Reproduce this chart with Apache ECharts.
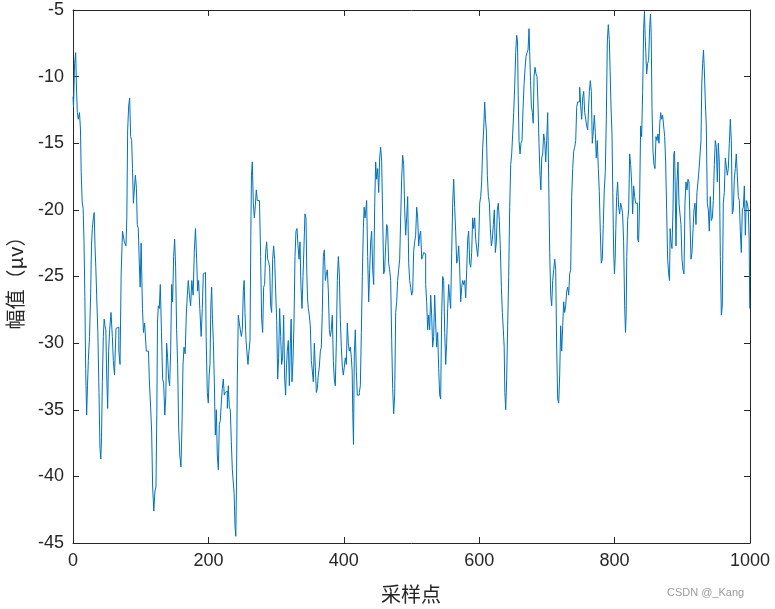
<!DOCTYPE html>
<html>
<head>
<meta charset="utf-8">
<script src="https://cdn.jsdelivr.net/npm/echarts@6/dist/echarts.min.js"></script>
<style>
html,body{margin:0;padding:0;background:#fff;}
#chart{width:775px;height:609px;}
</style>
</head>
<body>
<div id="chart"></div>
<script>
// [sample index, amplitude (μv)], in pieces along the x axis
const seg0to90 = [[0,-11.5],[1.5,-12.3],[3.2,-9.0],[4.7,-8.2],[5.7,-11],[7.1,-12.7],[8.6,-13.2],[10.6,-12.7],[11.6,-14],[12.6,-17.2],[14.5,-19.4],[15.5,-19.9],[17,-22.4],[18,-26.5],[19.4,-31.9],[20.9,-35.4],[21.9,-33.2],[23.4,-31.3],[25.4,-29.5],[26.8,-26.3],[27.8,-22.7],[29.3,-21.4],[30.8,-20.6],[31.8,-20.2],[33.2,-22.7],[34.2,-24.3],[35.7,-26.4],[37.7,-29.2],[39.1,-33.7],[40.6,-37.9],[41.6,-38.7],[42.6,-37.1],[44.1,-32.9],[45.5,-29.5],[46.5,-28.2],[48,-28.7],[49,-29],[50.5,-32.4],[51.9,-34.9],[53.4,-30.6],[54.9,-29],[57.4,-27.7],[58.8,-29.5],[60.3,-31.3],[62.3,-32.4],[64.8,-28.9],[66.7,-28.8],[68.7,-30.6],[70.2,-31.6],[72.1,-24.8],[74.1,-21.6],[77.5,-22.4],[79,-22.7],[80,-20.6],[81.5,-14],[83,-12.2],[84.4,-11.6],[85.9,-14.5],[87.4,-14.8],[88.4,-16.9],[90,-19.5]];
const seg91to201 = [[91,-19.4],[93.3,-17.4],[94.2,-18.4],[95.7,-21.1],[97.2,-21.4],[98.7,-24],[99.7,-25.8],[101.6,-22.5],[103.6,-27.4],[104.6,-29.2],[107,-28.5],[109.5,-30.6],[111.5,-30.6],[113.9,-32.7],[115.4,-34.8],[116.9,-36.6],[118.4,-40.8],[120.3,-42.6],[121.8,-41.1],[123.3,-40.8],[124.3,-35.3],[125.3,-28.5],[126.7,-27.2],[128.2,-27.4],[129.7,-25.6],[131.7,-29.2],[133.1,-32.7],[134.6,-33],[136.6,-35.4],[137.6,-33.9],[139,-30],[140.5,-31.1],[142,-32.7],[143.5,-33.2],[145,-30.6],[146.4,-25.6],[147.9,-26.9],[149.4,-23.5],[150.9,-22.2],[152.3,-24.3],[153.8,-29],[155.3,-31.6],[156.8,-36.3],[158.7,-38.4],[160.2,-39.3],[161.7,-36.3],[163.2,-31.7],[164.7,-30.3],[166.6,-30.8],[168.1,-27.9],[169.6,-26.4],[171,-25.3],[173,-26.4],[174.5,-27.2],[176.5,-25.3],[178.4,-26.4],[179.9,-23.2],[181.9,-21.4],[183.4,-23.7],[184.8,-26.1],[186.3,-25.3],[188.3,-27.4],[190.3,-29.5],[191.7,-27.4],[193.2,-24.8],[195.7,-24.7],[197.6,-29.5],[199.1,-33.7],[200.6,-34.5]];
const seg202to319 = [[201.6,-32.4],[203.1,-31.6],[204.1,-27.2],[205.5,-25.8],[206.5,-28.2],[208,-29.8],[209.5,-32.9],[211,-36.9],[212.4,-35],[213.9,-38.4],[215.4,-39.5],[216.9,-36.1],[218.3,-35.8],[219.8,-34.5],[221.3,-33.4],[222.8,-32.7],[224.2,-33.9],[225.7,-33.7],[227.2,-33.6],[228.7,-34.9],[230.2,-33.2],[231.6,-34.8],[233.1,-35],[234.6,-37.4],[236.1,-39.5],[237.5,-40.5],[238.5,-41.3],[240,-43.7],[241,-44.5],[242,-40.5],[243.4,-32.7],[244.9,-27.9],[246.4,-28.5],[247.9,-29],[249.4,-29.5],[250.8,-29],[252.3,-26.1],[253.3,-25.3],[254.8,-27.7],[256.3,-29.8],[257.7,-29.9],[259.2,-31.6],[260.7,-30.6],[262.2,-29.8],[263.1,-21.9],[264.1,-17.4],[265.6,-16.4],[267.1,-19.5],[268.6,-20.6],[270,-19.7],[271.5,-18.5],[273,-19.3],[274.5,-19.3],[276.4,-19.3],[277.9,-23.5],[279.4,-28.2],[280.9,-29.2],[282.3,-25.8],[283.8,-25.6],[285.3,-23.2],[286.8,-22.4],[288.3,-23.7],[289.7,-23.9],[291.2,-24.3],[292.7,-27.2],[294.2,-27.7],[295.6,-23.7],[297.1,-22.7],[298.6,-23.7],[300.1,-26.1],[301.6,-28.3],[303,-32.7],[304.5,-31.1],[306,-27.4],[307.5,-29.5],[308.9,-31.6],[310.4,-31.1],[311.9,-27.9],[313.4,-32.7],[314.8,-33.9],[315.8,-31.8],[317.3,-30.6],[318.8,-29.8]];
const seg320to425 = [[320.3,-33.2],[321.8,-30],[322.7,-28.2],[324.2,-32.9],[325.7,-31.3],[327.2,-28.5],[328.6,-23.5],[330.1,-21.6],[331.6,-21.4],[333.1,-22.7],[334.6,-23.7],[336,-22.4],[337.5,-25.8],[339,-27.4],[340.5,-25],[341.9,-22.7],[343.4,-20.3],[344.9,-20.6],[345.9,-24.8],[346.9,-26.6],[348.3,-27.4],[349.8,-27.9],[351.3,-28.7],[352.8,-31.3],[354.3,-32.1],[355.7,-32.9],[357.2,-30],[358.7,-31.8],[360.2,-33.7],[361.6,-33.4],[363.1,-32.4],[364.6,-31.8],[366.1,-30.6],[367.5,-30.3],[369,-27.7],[370.5,-23.5],[372,-23],[373.5,-25.3],[374.9,-24.8],[376.4,-24.5],[377.9,-26.1],[379.4,-29],[380.8,-29.5],[382.3,-29],[383.8,-27.9],[385.3,-31.3],[386.7,-32.7],[388.2,-33.2],[389.7,-30],[391.2,-25.3],[392.7,-23.5],[394.1,-24.8],[395.6,-28.2],[397.1,-30.3],[398.6,-31.8],[400,-32.4],[401.5,-31.8],[403,-31.1],[404.5,-31.6],[405.9,-28.5],[407.4,-30],[408.9,-30.6],[410.4,-30.3],[411.9,-31.1],[412.8,-32.1],[413.8,-35.3],[414.8,-37.6],[416.3,-30.8],[417.8,-29],[419.2,-32.1],[420.7,-33.9],[422.2,-33.9],[423.7,-33.7],[425.2,-33.2]];
const seg427to540 = [[426.6,-29.2],[428.1,-25],[429.6,-21.4],[430.6,-19.8],[432.1,-20.6],[433,-20],[434.5,-19.3],[436,-23.5],[437.5,-26.9],[439,-24.5],[440.4,-22.4],[441.9,-21.6],[443.4,-24.5],[444.9,-25.6],[446.3,-19.8],[447.8,-16.4],[449.3,-17.7],[450.8,-16.9],[452.3,-18.7],[453.7,-16.1],[455.2,-15.3],[456.7,-16.4],[458.2,-20.6],[459.6,-24.8],[461.1,-24.5],[462.6,-22.7],[464.1,-21.1],[465.5,-21.4],[467,-24],[468.5,-24.5],[470,-25.3],[471.5,-29.8],[472.9,-33.4],[474.4,-35.3],[475.9,-33.9],[477.4,-27.7],[478.8,-26.9],[480.3,-25.3],[481.8,-24.5],[483.3,-23.7],[484.7,-23.6],[486.2,-17.7],[487.7,-15.9],[489.2,-16.6],[490.7,-20],[492.1,-21.9],[493.6,-20.6],[495.1,-19],[496.6,-24],[498,-25.3],[499.5,-25.8],[501,-26.4],[502.5,-26.1],[503.9,-23.1],[505.4,-22.4],[506.9,-21.9],[508.4,-19.8],[509.9,-20.6],[511.3,-22.7],[512.8,-21.9],[514.3,-21.6],[515.8,-23.7],[517.2,-23.5],[518.7,-23.2],[520.2,-23.3],[521.7,-25.6],[523.1,-26.9],[524.6,-29],[526.1,-27.9],[527.6,-29],[529.1,-26.4],[530.5,-27.9],[532,-30.3],[533.5,-29.5],[535,-26.4],[536.4,-28.5],[537.9,-30.3],[539.4,-29.2]];
const seg541to646 = [[540.9,-31.9],[542.4,-33.9],[543.8,-34.2],[545.3,-27.9],[546.8,-25],[548.3,-25.3],[549.8,-29.2],[551.2,-31.6],[552.7,-30],[554.2,-27.4],[555.7,-25.6],[557.1,-26.6],[558.6,-27.4],[560.1,-23.2],[561.6,-19.5],[563,-17.7],[564.5,-19.8],[566,-21.6],[567.5,-24],[569,-23.7],[570.4,-22.7],[571.9,-24.3],[573.4,-26.9],[574.9,-25.8],[576.3,-25.3],[577.8,-25.6],[579.3,-25.3],[580.8,-26.6],[582.3,-24.5],[583.7,-22.2],[585.2,-21.6],[586.7,-24],[588.2,-24.3],[589.6,-23.2],[591.1,-20.6],[592.6,-21.4],[594.1,-20.6],[595.5,-22.2],[597,-22.2],[598.5,-23.5],[600,-22.4],[601.5,-19.5],[602.9,-19],[604.4,-17.9],[605.9,-15.3],[607.4,-14],[608.8,-11.9],[609.8,-13.2],[611.3,-14],[612.8,-17.4],[614.3,-19],[615.7,-19.5],[617.2,-21.4],[618.7,-22.7],[620.2,-22.2],[621.6,-21.1],[623.1,-20],[624.6,-23.2],[626.1,-22.4],[627.5,-20],[629,-19.5],[630.5,-20.8],[632,-22.9],[633.5,-25.8],[634.9,-27.7],[636.4,-29],[637.4,-30.3],[638.4,-33.7],[639.9,-35],[641.3,-32.7],[642.8,-28.7],[644.3,-25],[645.8,-19.8]];
const seg647to761 = [[647.3,-16.6],[648.7,-15.8],[650.2,-14.3],[651.7,-12.7],[653.2,-10.7],[654.6,-8.2],[656.1,-6.9],[657.1,-7.4],[658.1,-11.4],[659.6,-14.8],[661,-15.8],[662.5,-15],[664,-14.8],[665.5,-12.4],[667,-10.6],[668.4,-9.4],[669.9,-8.5],[671.4,-8.2],[672.9,-8],[674.3,-6.4],[675.3,-6.4],[676.3,-10.3],[677.8,-12.2],[679.3,-12.7],[680.3,-13.5],[681.7,-10],[683.2,-9.3],[684.7,-9.8],[686.2,-10],[687.6,-12.2],[689.1,-15],[690.6,-17.4],[691.6,-18.5],[693.1,-16.1],[694.5,-15.8],[696,-14.3],[697.5,-14.8],[699,-16.4],[700.4,-14.8],[701.9,-12.7],[703.4,-17.7],[704.9,-23.2],[706.3,-26.4],[707.8,-27.2],[709.3,-25.3],[710.8,-24.5],[712.3,-23.7],[713.7,-24.5],[715.2,-30.3],[716.7,-34.2],[718.2,-34.5],[719.6,-32.4],[721.1,-28.7],[722.6,-30.6],[724.1,-28.7],[725.5,-26.9],[727,-27.7],[728.5,-27.2],[730,-26.1],[731.5,-25.8],[732.9,-26.4],[734.4,-24.8],[735.9,-24.5],[737.4,-19],[738.8,-16.9],[740.3,-15.6],[741.8,-15.3],[743.3,-14.8],[744.7,-12.3],[746.2,-11.9],[747.7,-11.9],[749.2,-10.8],[750.7,-12.2],[752.1,-13.2],[753.6,-11.6],[755.1,-11.1],[756.6,-12.7],[758,-13.2],[759.5,-13.7],[761,-14]];
const seg762to866 = [[762,-12.4],[763.4,-11.1],[764.9,-10.3],[766.3,-11.1],[767.8,-15],[769.3,-14.1],[770.8,-12.9],[772.2,-14.2],[773.7,-16.1],[775.2,-14.8],[776.7,-16.9],[778.1,-18.6],[779.6,-21.6],[781.1,-24],[782.6,-23.7],[784,-21.1],[785.5,-18.5],[787,-17.2],[788.5,-13.2],[790,-7.4],[791.4,-6.1],[792.9,-7.2],[793.9,-9.6],[795.4,-12.2],[796.9,-14.3],[797.8,-18.7],[799.3,-23],[800.3,-24.8],[801.3,-23.7],[802.3,-21.4],[803.7,-19],[805.2,-17.9],[806.7,-19.8],[808.2,-20.3],[809.7,-19.5],[811.1,-19.8],[812.6,-20.3],[814.1,-22.4],[815.6,-27.2],[816.6,-29.2],[817.5,-27.9],[818.5,-23.5],[820,-20.8],[821.5,-20],[823,-15.8],[824.4,-16.6],[825.9,-17.9],[827.4,-20.3],[828.9,-18.2],[830.3,-19],[831.8,-19.5],[833.3,-19.5],[834.8,-22.2],[836.2,-22.4],[837.7,-19.3],[839.2,-13.7],[840.7,-14.5],[842.2,-11.1],[843.6,-6.4],[844.6,-5.1],[845.6,-6.9],[846.6,-8.2],[848.1,-9.8],[849.5,-9],[851,-8.8],[852.5,-6.4],[853.5,-5.3],[854.5,-6.7],[856,-12.4],[857.4,-15.6],[858.9,-16.6],[860.4,-16.9],[861.9,-14.5],[863.3,-14.8],[864.8,-14.3],[866.3,-15]];
const seg867to1000 = [[867.3,-13.5],[868.8,-12.7],[870.2,-13.2],[871.7,-12.9],[873.2,-13.7],[874.7,-14.5],[876.1,-16.4],[877.6,-20],[879.1,-23.7],[880.6,-24.8],[881.6,-25.3],[882.5,-21.4],[884,-22.4],[885.5,-22.9],[887,-20],[888,-15.8],[889,-15.6],[889.9,-17.9],[891.4,-22.7],[892.9,-17.9],[894.4,-16.4],[895.8,-19.5],[897.3,-19.4],[898.8,-21.1],[900.3,-23.7],[901.8,-24.5],[903.2,-24.8],[904.7,-19.5],[906.2,-17.9],[907.7,-18.5],[909.1,-17.7],[910.6,-17.9],[912.1,-20.8],[913.6,-23.7],[915,-23.2],[916.5,-23.2],[918,-20],[919.5,-19.5],[920.9,-21.1],[922.4,-18.7],[923.9,-17.9],[925.4,-17],[926.9,-16.9],[928.3,-14.8],[929.3,-10.5],[930.8,-9],[931.8,-8],[933.3,-9.5],[934.7,-11.9],[936.2,-13.7],[937.7,-19.5],[939.2,-20],[940.6,-21.6],[942.1,-19],[943.6,-20.8],[945.1,-20.6],[946.6,-19.3],[948,-16.6],[949.5,-14.8],[951,-15.3],[952.5,-17.9],[953.9,-15],[955.4,-16.4],[956.9,-23.5],[958.4,-27.9],[959.8,-27.2],[961.3,-19.5],[962.8,-18.7],[964.3,-16.1],[965.8,-16.1],[967.2,-17.4],[968.7,-16.9],[970.2,-15],[971.7,-13.2],[973.1,-14.8],[974.6,-20.3],[976.1,-20],[977.6,-17.7],[979,-16.9],[980.5,-15.8],[982,-17.4],[983.5,-19],[985,-19.3],[986.4,-21.6],[987.9,-23.2],[989.4,-20],[990.9,-19.8],[992.4,-18.2],[993.8,-21.9],[995.3,-19.3],[996.8,-19.5],[998.3,-20],[999.2,-22.2],[1000,-27.4]];

const xTicks = [0, 200, 400, 600, 800, 1000];
const yTicks = [-45, -40, -35, -30, -25, -20, -15, -10, -5];
const xTitle = '采样点';
const yTitle = '幅值（μv）';
const watermark = 'CSDN @_Kang';

const signal = [].concat(seg0to90, seg91to201, seg202to319, seg320to425, seg427to540,
  seg541to646, seg647to761, seg762to866, seg867to1000);

const axisColor = '#262626';
const tickFont = { fontFamily: 'Liberation Sans, Arial, sans-serif', fontSize: 18, color: axisColor };

const chart = echarts.init(document.getElementById('chart'), null, { renderer: 'canvas' });
const baseX = {
  type: 'value', min: xTicks[0], max: xTicks[xTicks.length - 1], interval: xTicks[1] - xTicks[0],
  axisLine: { show: true, onZero: false, lineStyle: { color: axisColor, width: 1 } },
  axisTick: { show: true, inside: true, length: 6, lineStyle: { color: axisColor } },
  splitLine: { show: false }
};
const baseY = {
  type: 'value', min: yTicks[0], max: yTicks[yTicks.length - 1], interval: yTicks[1] - yTicks[0],
  axisLine: { show: true, onZero: false, lineStyle: { color: axisColor, width: 1 } },
  axisTick: { show: true, inside: true, length: 6, lineStyle: { color: axisColor } },
  splitLine: { show: false }
};
chart.setOption({
  animation: false,
  backgroundColor: '#ffffff',
  grid: { left: 73, top: 10, width: 677, height: 533, containLabel: false },
  xAxis: [
    Object.assign({}, baseX, { position: 'bottom',
      axisLabel: Object.assign({ margin: 9, formatter: v => String(v) }, tickFont) }),
    Object.assign({}, baseX, { position: 'top', axisLabel: { show: false } })
  ],
  yAxis: [
    Object.assign({}, baseY, { position: 'left',
      axisLabel: Object.assign({ margin: 9, formatter: v => String(v) }, tickFont) }),
    Object.assign({}, baseY, { position: 'right', axisLabel: { show: false } })
  ],
  series: [{
    type: 'line',
    xAxisIndex: 0, yAxisIndex: 0,
    data: signal,
    step: 'middle',
    showSymbol: false,
    symbol: 'none',
    lineStyle: { color: '#0072BD', width: 1 },
    itemStyle: { color: '#0072BD' },
    silent: true
  }],
  graphic: [
    { type: 'text', left: 411 - 30, top: 584,
      style: { text: xTitle, font: '20px "Noto Sans CJK SC", sans-serif', fill: axisColor } },
    { type: 'text', x: 15, y: 278, rotation: Math.PI / 2,
      style: { text: yTitle, font: '20px "Noto Sans CJK SC", sans-serif', fill: axisColor,
               align: 'center', verticalAlign: 'middle' } },
    { type: 'text', left: 667, top: 587,
      style: { text: watermark, font: '11px "Liberation Sans", Arial, sans-serif', fill: '#9a9a9a' } }
  ]
});
</script>
</body>
</html>
